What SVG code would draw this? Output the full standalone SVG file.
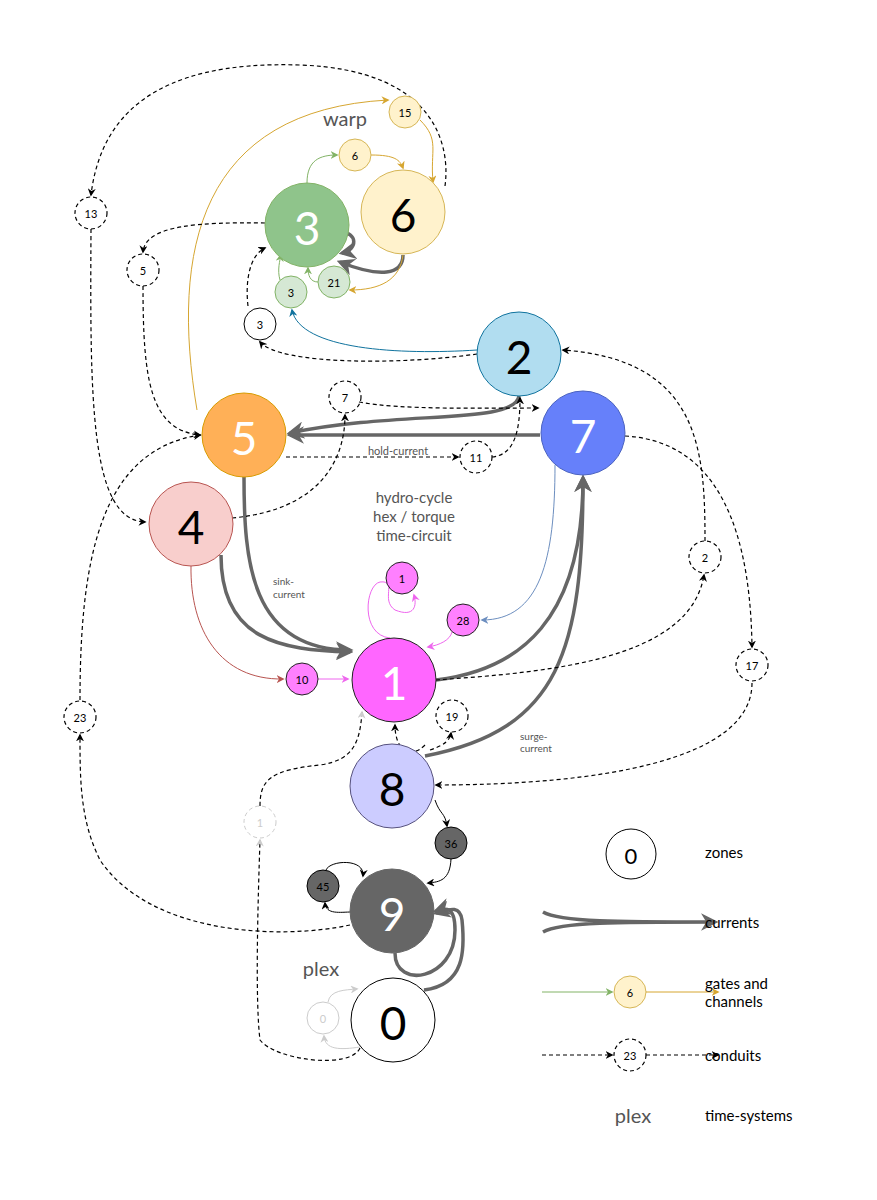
<svg xmlns="http://www.w3.org/2000/svg" width="877" height="1200" viewBox="0 0 877 1200">
<style>
text{font-family:"Lato","Liberation Sans",sans-serif;text-anchor:middle;dominant-baseline:central}
.big{font-size:46px}.sm{font-size:11px}
.cur{fill:none;stroke:#666;stroke-width:3.5}
.dsh{fill:none;stroke:#000;stroke-width:1.2;stroke-dasharray:4 3}
.thin{fill:none;stroke-width:1}
.lbl{fill:#555}
</style>
<defs>
<marker id="ac" viewBox="0 0 10 10" refX="8" refY="5" markerWidth="5" markerHeight="5" orient="auto" markerUnits="strokeWidth"><path d="M0,0L10,5L0,10L3,5Z" fill="#666"/></marker>
<marker id="ad" viewBox="0 0 10 10" refX="8" refY="5" markerWidth="8" markerHeight="8" orient="auto" markerUnits="userSpaceOnUse"><path d="M0,0L10,5L0,10L3,5Z" fill="#000"/></marker>
<marker id="ag" viewBox="0 0 10 10" refX="8" refY="5" markerWidth="8" markerHeight="8" orient="auto" markerUnits="userSpaceOnUse"><path d="M0,0L10,5L0,10L3,5Z" fill="context-stroke"/></marker>
<marker id="agr" viewBox="0 0 10 10" refX="8" refY="5" markerWidth="8" markerHeight="8" orient="auto" markerUnits="userSpaceOnUse"><path d="M0,0L10,5L0,10L3,5Z" fill="#82b366"/></marker>
<marker id="ay" viewBox="0 0 10 10" refX="8" refY="5" markerWidth="8" markerHeight="8" orient="auto" markerUnits="userSpaceOnUse"><path d="M0,0L10,5L0,10L3,5Z" fill="#d6a631"/></marker>
<marker id="ab" viewBox="0 0 10 10" refX="8" refY="5" markerWidth="8" markerHeight="8" orient="auto" markerUnits="userSpaceOnUse"><path d="M0,0L10,5L0,10L3,5Z" fill="#10739e"/></marker>
<marker id="abl" viewBox="0 0 10 10" refX="8" refY="5" markerWidth="8" markerHeight="8" orient="auto" markerUnits="userSpaceOnUse"><path d="M0,0L10,5L0,10L3,5Z" fill="#6c8ebf"/></marker>
<marker id="am" viewBox="0 0 10 10" refX="8" refY="5" markerWidth="8" markerHeight="8" orient="auto" markerUnits="userSpaceOnUse"><path d="M0,0L10,5L0,10L3,5Z" fill="#ee66ee"/></marker>
<marker id="ar" viewBox="0 0 10 10" refX="8" refY="5" markerWidth="8" markerHeight="8" orient="auto" markerUnits="userSpaceOnUse"><path d="M0,0L10,5L0,10L3,5Z" fill="#b85450"/></marker>
<marker id="ak" viewBox="0 0 10 10" refX="8" refY="5" markerWidth="8" markerHeight="8" orient="auto" markerUnits="userSpaceOnUse"><path d="M0,0L10,5L0,10L3,5Z" fill="#ccc"/></marker>
</defs>
<g id="connectors">
<!-- currents -->
<path class="cur" d="M540,435 L290,435" marker-end="url(#ac)"/>
<path class="cur" d="M519,396 C515,425 400,410 290,433" marker-end="url(#ac)"/>
<path class="cur" d="M244,477 C244,560 250,650 350,650" marker-end="url(#ac)"/>
<path class="cur" d="M221,555 C221,640 280,650 350,652" marker-end="url(#ac)"/>
<path class="cur" d="M436,680 C520,670 583,620 583,478" marker-end="url(#ac)"/>
<path class="cur" d="M425,756 C560,730 583,650 583,478" marker-end="url(#ac)"/>
<path class="cur" d="M340,232 C358,232 358,250 342,253" marker-end="url(#ac)"/>
<path class="cur" d="M403,255 C403,275 380,278 340,262" marker-end="url(#ac)"/>
<path class="cur" d="M395,953 C395,990 455,980 455,930 C455,905 445,908 436,911" marker-end="url(#ac)"/>
<path class="cur" d="M424,990 C465,985 465,950 462,920 C460,905 450,909 436,913" marker-end="url(#ac)"/>
<!-- coloured thin -->
<path class="thin" stroke="#d6a631" d="M197,410 C170,250 200,110 388,100" marker-end="url(#ay)"/>
<path class="thin" stroke="#d6a631" d="M420,120 C440,140 430,150 433,182" marker-end="url(#ay)"/>
<path class="thin" stroke="#82b366" d="M307,183 C307,160 320,155 337,155" marker-end="url(#agr)"/>
<path class="thin" stroke="#d6a631" d="M371,155 C395,155 400,160 403,168" marker-end="url(#ay)"/>
<path class="thin" stroke="#d6a631" d="M403,255 C400,280 380,290 350,290" marker-end="url(#ay)"/>
<path class="thin" stroke="#82b366" d="M280,280 C277,270 280,260 281,255" marker-end="url(#agr)"/>
<path class="thin" stroke="#82b366" d="M318,282 C310,282 308,275 308,268" marker-end="url(#agr)"/>
<path class="thin" stroke="#10739e" d="M477,350 C400,355 300,350 292,310" marker-end="url(#ab)"/>
<path class="thin" stroke="#6c8ebf" d="M555,465 C555,560 540,620 482,620" marker-end="url(#abl)"/>
<path class="thin" stroke="#b85450" d="M191,566 C190,630 220,680 283,679" marker-end="url(#ar)"/>
<path class="thin" stroke="#ee66ee" d="M318,679 L348,679" marker-end="url(#am)"/>
<path class="thin" stroke="#ee66ee" d="M390,638 C360,635 365,585 380,582 C398,580 380,600 395,610 C415,618 417,605 414,595" marker-end="url(#am)"/>
<path class="thin" stroke="#ee66ee" d="M452,632 C450,640 440,645 428,647" marker-end="url(#am)"/>
<path class="thin" stroke="#000" d="M435,800 C440,815 445,812 447,826" marker-end="url(#ad)"/>
<path class="thin" stroke="#000" d="M451,859 C450,880 440,882 428,883" marker-end="url(#ad)"/>
<path class="thin" stroke="#000" d="M352,912 C340,912 326,915 325,903" marker-end="url(#ad)"/>
<path class="thin" stroke="#000" d="M326,870 C330,860 365,858 363,876" marker-end="url(#ad)"/>
<path class="thin" stroke="#ccc" d="M328,1002 C330,990 345,990 357,989" marker-end="url(#ak)"/>
<path class="thin" stroke="#ccc" d="M360,1047 C340,1050 325,1050 324,1036" marker-end="url(#ak)"/>
<path class="dsh" stroke="#ccc" d="M360,1048 C350,1070 275,1060 260,1040 C255,1000 258,900 260,840" marker-end="url(#ak)"/>
<path class="dsh" stroke="#ccc" d="M260,806 C260,780 270,770 320,765 C355,760 360,740 362,712" marker-end="url(#ak)"/>
<!-- dashed conduits -->
<path class="dsh" d="M445,186 C450,150 440,70 300,65 C150,60 100,120 91,195" marker-end="url(#ad)"/>
<path class="dsh" d="M91,229 C90,400 90,520 145,522" marker-end="url(#ad)"/>
<path class="dsh" d="M265,223 C200,222 145,225 143,252" marker-end="url(#ad)"/>
<path class="dsh" d="M143,286 C143,380 150,430 200,435" marker-end="url(#ad)"/>
<path class="dsh" d="M248,306 C245,280 250,255 265,248" marker-end="url(#ad)"/>
<path class="dsh" d="M477,354 C400,365 280,365 260,342" marker-end="url(#ad)"/>
<path class="dsh" d="M232,518 C320,510 345,460 345,415" marker-end="url(#ad)"/>
<path class="dsh" d="M359,402 C400,410 480,408 538,408" marker-end="url(#ad)"/>
<path class="dsh" d="M286,457 L458,457" marker-end="url(#ad)"/>
<path class="dsh" d="M492,457 C515,455 520,430 520,398" marker-end="url(#ad)"/>
<path class="dsh" d="M436,680 C550,672 690,660 704,575" marker-end="url(#ad)"/>
<path class="dsh" d="M705,541 C705,450 700,360 563,350" marker-end="url(#ad)"/>
<path class="dsh" d="M625,436 C700,440 750,500 752,647" marker-end="url(#ad)"/>
<path class="dsh" d="M752,683 C752,760 600,785 436,785" marker-end="url(#ad)"/>
<path class="dsh" d="M350,925 C280,940 150,935 100,860 C80,820 80,780 80,735" marker-end="url(#ad)"/>
<path class="dsh" d="M80,700 C80,560 100,450 200,435" marker-end="url(#ad)"/>
<path class="dsh" d="M425,745 C410,760 395,750 395,725" marker-end="url(#ad)"/>
<path class="dsh" d="M430,750 C445,745 450,740 451,733" marker-end="url(#ad)"/>
</g>
<g id="n3"><circle cx="307" cy="225" r="42" fill="#8fc48b" stroke="#82b366"/><text x="307" y="227" class="big" fill="#fff">3</text></g>
<g id="n6"><circle cx="403" cy="212" r="42" fill="#fff2cc" stroke="#d6b656"/><text x="403" y="214" class="big">6</text></g>
<g id="n15"><circle cx="405" cy="112" r="16" fill="#fff2cc" stroke="#d6b656"/><text x="405" y="112" class="sm">15</text></g>
<g id="n6s"><circle cx="355" cy="155" r="16" fill="#fff2cc" stroke="#d6b656"/><text x="355" y="155" class="sm">6</text></g>
<g id="n3s"><circle cx="291" cy="292" r="16" fill="#d5e8d4" stroke="#82b366"/><text x="291" y="292" class="sm">3</text></g>
<g id="n21"><circle cx="334" cy="282" r="16" fill="#d5e8d4" stroke="#82b366"/><text x="334" y="282" class="sm">21</text></g>
<g id="n3w"><circle cx="260" cy="324" r="16" fill="#fff" stroke="#000"/><text x="260" y="324" class="sm">3</text></g>
<g id="n2"><circle cx="519" cy="354" r="42" fill="#b1ddf0" stroke="#10739e"/><text x="519" y="356" class="big">2</text></g>
<g id="n5"><circle cx="244" cy="435" r="42" fill="#ffb057" stroke="#d79b00"/><text x="244" y="437" class="big" fill="#fff">5</text></g>
<g id="n7"><circle cx="583" cy="433" r="42" fill="#6680fa" stroke="#4a62c0"/><text x="583" y="435" class="big" fill="#fff">7</text></g>
<g id="n4"><circle cx="191" cy="524" r="42" fill="#f8cecc" stroke="#b85450"/><text x="191" y="526" class="big">4</text></g>
<g id="n1"><circle cx="394" cy="680" r="42" fill="#ff66ff" stroke="#222"/><text x="394" y="682" class="big" fill="#fff">1</text></g>
<g id="n1s"><circle cx="402" cy="578" r="16" fill="#ff80ff" stroke="#222"/><text x="402" y="578" class="sm">1</text></g>
<g id="n28"><circle cx="463" cy="620" r="16" fill="#ff80ff" stroke="#222"/><text x="463" y="620" class="sm">28</text></g>
<g id="n10"><circle cx="302" cy="679" r="16" fill="#ff80ff" stroke="#222"/><text x="302" y="679" class="sm">10</text></g>
<g id="n8"><circle cx="392" cy="786" r="42" fill="#ccccff" stroke="#56517e"/><text x="392" y="788" class="big">8</text></g>
<g id="n19"><circle cx="452" cy="716" r="16" fill="#fff" class="dsh"/><text x="452" y="716" class="sm">19</text></g>
<g id="n36"><circle cx="451" cy="843" r="16" fill="#666" stroke="#000"/><text x="451" y="843" class="sm">36</text></g>
<g id="n9"><circle cx="392" cy="911" r="42" fill="#666" stroke="#666"/><text x="392" y="913" class="big" fill="#fff">9</text></g>
<g id="n45"><circle cx="323" cy="886" r="16" fill="#666" stroke="#000"/><text x="323" y="886" class="sm">45</text></g>
<g id="n0"><circle cx="393" cy="1020" r="42" fill="#fff" stroke="#000"/><text x="393" y="1022" class="big">0</text></g>
<g id="n0s"><circle cx="323" cy="1018" r="16" fill="#fff" stroke="#ccc"/><text x="323" y="1018" class="sm" fill="#ccc">0</text></g>
<g id="n1g"><circle cx="260" cy="822" r="16" fill="#fff" stroke="#ccc" stroke-dasharray="4 3"/><text x="260" y="822" class="sm" fill="#ccc">1</text></g>
<g id="n13"><circle cx="91" cy="213" r="16" fill="#fff" class="dsh"/><text x="91" y="213" class="sm">13</text></g>
<g id="n5d"><circle cx="143" cy="270" r="16" fill="#fff" class="dsh"/><text x="143" y="270" class="sm">5</text></g>
<g id="n7d"><circle cx="345" cy="397" r="16" fill="#fff" class="dsh"/><text x="345" y="397" class="sm">7</text></g>
<g id="n11"><circle cx="476" cy="457" r="16" fill="#fff" class="dsh"/><text x="476" y="457" class="sm">11</text></g>
<g id="n2d"><circle cx="705" cy="557" r="16" fill="#fff" class="dsh"/><text x="705" y="557" class="sm">2</text></g>
<g id="n17"><circle cx="752" cy="665" r="16" fill="#fff" class="dsh"/><text x="752" y="665" class="sm">17</text></g>
<g id="n23"><circle cx="80" cy="717" r="16" fill="#fff" class="dsh"/><text x="80" y="717" class="sm">23</text></g>
<g id="labels">
<text x="345" y="118" font-size="20" class="lbl">warp</text>
<text x="321" y="968" font-size="20" class="lbl">plex</text>
<text x="414" y="497" font-size="15" class="lbl">hydro-cycle</text>
<text x="414" y="516" font-size="15" class="lbl">hex / torque</text>
<text x="414" y="535" font-size="15" class="lbl">time-circuit</text>
<rect x="362" y="443" width="72" height="13" fill="#fff"/>
<text x="398" y="450" font-size="11" class="lbl">hold-current</text>
<text x="273" y="581" font-size="10" class="lbl" text-anchor="start" style="text-anchor:start">sink-</text>
<text x="273" y="594" font-size="10" class="lbl" style="text-anchor:start">current</text>
<text x="520" y="736" font-size="10" class="lbl" style="text-anchor:start">surge-</text>
<text x="520" y="748" font-size="10" class="lbl" style="text-anchor:start">current</text>
</g>
<g id="legend">
<circle cx="631" cy="854" r="25" fill="#fff" stroke="#000"/><text x="631" y="855" font-size="22">0</text>
<text x="705" y="852" font-size="15" style="text-anchor:start">zones</text>
<path class="cur" d="M543,912 C560,922 620,922 715,922 M543,932 C560,922 620,922 715,922" marker-end="url(#ac)"/>
<text x="705" y="922" font-size="15" style="text-anchor:start">currents</text>
<path class="thin" stroke="#82b366" d="M542,992 L612,992" marker-end="url(#agr)"/>
<circle cx="630" cy="992" r="16" fill="#fff2cc" stroke="#d6b656"/><text x="630" y="992" class="sm">6</text>
<path class="thin" stroke="#d6a631" d="M646,992 L718,992" marker-end="url(#ay)"/>
<text x="705" y="983" font-size="15" style="text-anchor:start">gates and</text>
<text x="705" y="1001" font-size="15" style="text-anchor:start">channels</text>
<path class="dsh" d="M542,1055 L612,1055" marker-end="url(#ad)"/>
<circle cx="630" cy="1055" r="16" fill="#fff" class="dsh"/><text x="630" y="1055" class="sm">23</text>
<path class="dsh" d="M646,1055 L718,1055" marker-end="url(#ad)"/>
<text x="705" y="1055" font-size="15" style="text-anchor:start">conduits</text>
<text x="633" y="1115" font-size="20" class="lbl">plex</text>
<text x="705" y="1115" font-size="15" style="text-anchor:start">time-systems</text>
</g>
</svg>
